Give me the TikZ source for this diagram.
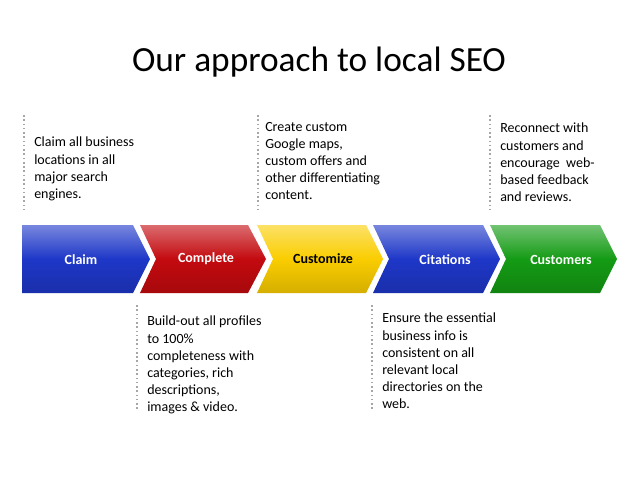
\documentclass[tikz,border=0pt]{standalone}
\usepackage{fontspec}
\setmainfont{Carlito}
\usepackage{tikz}
\usetikzlibrary{calc}

\definecolor{cblue}{RGB}{30,55,200}
\definecolor{cred}{RGB}{195,10,15}
\definecolor{cyellow}{RGB}{250,205,0}
\definecolor{cgreen}{RGB}{20,155,20}

\tikzset{
  infotext/.style={anchor=north west,align=left,font=\fontsize{10.5pt}{12.8pt}\selectfont,inner sep=0pt},
  dotline/.style={draw=gray!70,line width=1.2pt,dotted},
  steplabel/.style={font=\bfseries\fontsize{10.5pt}{12pt}\selectfont}
}

\begin{document}
\begin{tikzpicture}[x=0.75pt,y=-0.75pt]
  \useasboundingbox (0,0) rectangle (638,479);
  \node (title) at (319,62) {\fontsize{26.5pt}{30pt}\selectfont Our approach to local SEO};

  % chevrons
  \shade[top color=cblue!60,bottom color=cblue!85!black,middle color=cblue] (22,225) -- (133,225) -- (150,259) -- (133,293) -- (22,293) -- cycle;
  \node[steplabel,text=white] (claim) at (81,260) {Claim};
  \shade[top color=cred!60,bottom color=cred!85!black,middle color=cred] (140,225) -- (248,225) -- (266,259) -- (248,293) -- (140,293) -- (156,259) -- cycle;
  \node[steplabel,text=white] (complete) at (206,259) {Complete};
  \shade[top color=cyellow!60,bottom color=cyellow!85!black,middle color=cyellow] (257,225) -- (366,225) -- (383,259) -- (366,293) -- (257,293) -- (273,259) -- cycle;
  \node[steplabel,text=black] (customize) at (323,259) {Customize};
  \shade[top color=cblue!60,bottom color=cblue!85!black,middle color=cblue] (373,225) -- (483,225) -- (500,259) -- (483,293) -- (373,293) -- (389,259) -- cycle;
  \node[steplabel,text=white] (citations) at (445,260) {Citations};
  \shade[top color=cgreen!60,bottom color=cgreen!85!black,middle color=cgreen] (490,225) -- (600,225) -- (617,259) -- (600,293) -- (490,293) -- (506,259) -- cycle;
  \node[steplabel,text=white] (customers) at (561,260) {Customers};

  % dotted markers
  \draw[dotline] (24,115) -- (24,213);
  \draw[dotline] (258,115) -- (258,213);
  \draw[dotline] (490,115) -- (490,213);
  \draw[dotline] (137,305) -- (137,411);
  \draw[dotline] (372,305) -- (372,411);

  % texts
  \node[infotext] (t1) at (34,137) {Claim all business\\locations in all\\major search\\engines.};
  \node[infotext] (t3) at (265,122) {Create custom\\Google maps,\\custom offers and\\other differentiating\\content.};
  \node[infotext] (t5) at (500,123) {Reconnect with\\customers and\\encourage\ \ web-\\based feedback\\and reviews.};
  \node[infotext] (t2) at (147,316) {Build-out all profiles\\to 100\%\\completeness with\\categories, rich\\descriptions,\\images \& video.};
  \node[infotext] (t4) at (382,313) {Ensure the essential\\business info is\\consistent on all\\relevant local\\directories on the\\web.};
\end{tikzpicture}
\end{document}
